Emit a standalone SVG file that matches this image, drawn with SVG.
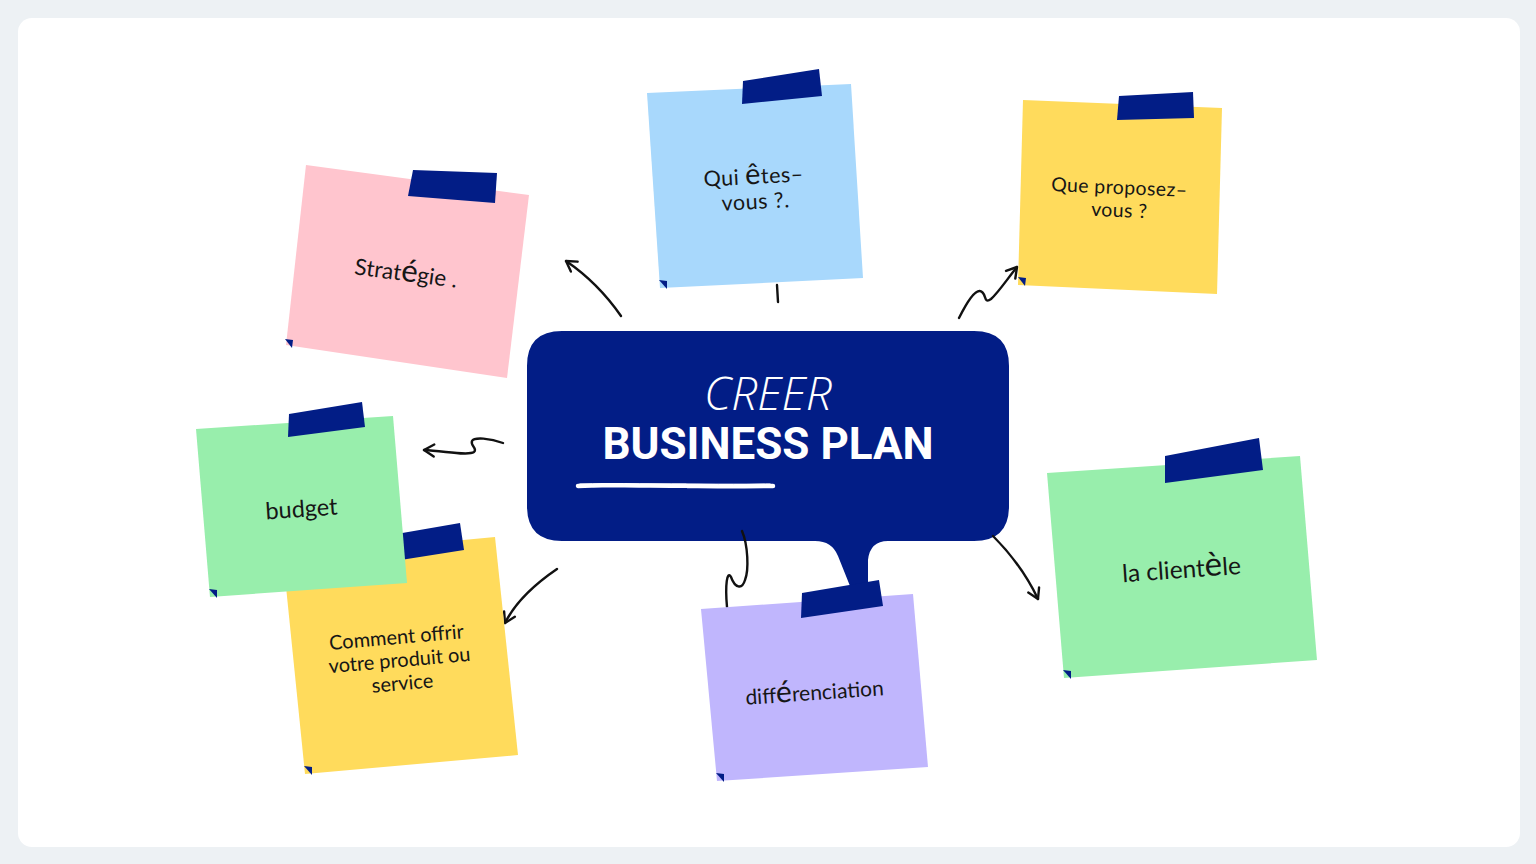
<svg xmlns="http://www.w3.org/2000/svg" width="1536" height="864" viewBox="0 0 1536 864">
<defs>
<style>
.note-text{font-family:Lato,"Noto Sans","DejaVu Sans",sans-serif;fill:#161616;text-anchor:middle}
.tape{fill:#021d86}
.corner{fill:#021d86}
.conn{fill:none;stroke:#111;stroke-width:2.4;stroke-linecap:round;stroke-linejoin:round}
</style>
<marker id="arr" markerUnits="userSpaceOnUse" markerWidth="16" markerHeight="16" refX="12" refY="8" orient="auto" viewBox="0 0 16 16">
<path d="M2,2 L12,8 L2,14" fill="none" stroke="#111" stroke-width="2.4" stroke-linecap="round" stroke-linejoin="round"/>
</marker>
</defs>
<rect x="0" y="0" width="1536" height="864" fill="#edf1f4"/>
<rect x="18" y="18" width="1502" height="829" rx="14" fill="#ffffff"/>

<g id="node-center">
<path d="M562,331 L974,331 Q1009,331 1009,366 L1009,506 Q1009,541 974,541 L888,541 Q870,541 868,560 L868,586 L850,586 L838,556 Q832,541 815,541 L562,541 Q527,541 527,506 L527,366 Q527,331 562,331 Z" fill="#021d86"/>
<text x="768" y="410" font-family="'Open Sans','DejaVu Sans',sans-serif" font-weight="300" font-style="italic" font-size="46" fill="#ffffff" text-anchor="middle">CREER</text>
<text x="768" y="459" font-family="Roboto,'Liberation Sans',sans-serif" font-weight="700" font-size="44" fill="#ffffff" text-anchor="middle">BUSINESS PLAN</text>
<path d="M578,486 C620,484 700,487 773,486" fill="none" stroke="#ffffff" stroke-width="4.5" stroke-linecap="round" stroke-dasharray="14 1.5 9 1 20 1.5"/>
<path d="M580,484 C640,483 710,485 770,484" fill="none" stroke="#ffffff" stroke-width="1.5" stroke-linecap="round" opacity="0.7"/>
</g>

<g id="connectors">
<path class="conn" d="M621,316 C605,293 588,276 566,261" marker-end="url(#arr)"/>
<path class="conn" d="M777,285 L778,302"/>
<path class="conn" d="M959,318 C966,304 974,290 980,291 C987,292 983,305 991,299 C998,293 1008,278 1017,267" marker-end="url(#arr)"/>
<path class="conn" d="M503,443 C490,438 474,437 472,441 C470,446 478,448 474,452 C468,456 445,451 424,450" marker-end="url(#arr)"/>
<path class="conn" d="M557,569 C535,584 515,603 505,623" marker-end="url(#arr)"/>
<path class="conn" d="M742,531 C748,545 749,570 745,580 C742,590 735,588 731,577 C727,570 725,585 727,607"/>
<path class="conn" d="M993,536 C1010,553 1026,574 1038,599" marker-end="url(#arr)"/>
</g>

<g id="node-strategie">
<polygon points="306,165 529,195 507,378 286,345" fill="#ffc5ce"/>
<polygon points="413,170 497,173 495,203 408,196" class="tape"/>
<polygon class="corner" points="285,339 293,340 292,348"/>
<text class="note-text" transform="translate(405,281) rotate(7.5)" font-size="22.5">Strat<tspan font-size="31">é</tspan>gie .</text>
</g>

<g id="node-qui">
<polygon points="647,93 851,84 863,278 660,288" fill="#a8d8fc"/>
<polygon points="743,81 819,69 822,96 742,104" class="tape"/>
<polygon class="corner" points="659,280 667,281 667,289"/>
<text class="note-text" transform="translate(754,184) rotate(-3)" font-size="21.5" letter-spacing="0.5">Qui <tspan font-size="29">ê</tspan>tes–</text>
<text class="note-text" transform="translate(756,209) rotate(-3)" font-size="21.5" letter-spacing="0.5">vous ?.</text>
</g>

<g id="node-que">
<polygon points="1023,100 1222,108 1217,294 1018,285" fill="#ffdb5c"/>
<polygon points="1119,96 1193,92 1194,118 1117,120" class="tape"/>
<polygon class="corner" points="1018,277 1026,278 1025,286"/>
<text class="note-text" transform="translate(1119,194) rotate(2.5)" font-size="19.5" letter-spacing="0.4">Que proposez–</text>
<text class="note-text" transform="translate(1119,217) rotate(2.5)" font-size="19.5" letter-spacing="0.4">vous ?</text>
</g>

<g id="node-comment">
<polygon points="283,557 495,537 518,755 305,774" fill="#ffdb5c"/>
<polygon points="385,536 460,523 464,550 388,562" class="tape"/>
<polygon class="corner" points="304,766 312,767 312,775"/>
<text class="note-text" transform="translate(397,644) rotate(-5)" font-size="20">Comment offrir</text>
<text class="note-text" transform="translate(400,667) rotate(-5)" font-size="20">votre produit ou</text>
<text class="note-text" transform="translate(403,690) rotate(-5)" font-size="20">service</text>
</g>

<g id="node-budget">
<polygon points="196,429 393,416 407,583 210,597" fill="#98eeac"/>
<polygon points="289,414 362,402 365,427 288,437" class="tape"/>
<polygon class="corner" points="209,589 217,590 217,598"/>
<text class="note-text" transform="translate(302,517) rotate(-4)" font-size="23.5">budget</text>
</g>

<g id="node-differenciation">
<polygon points="701,609 913,594 928,767 717,781" fill="#c0b6fd"/>
<polygon points="802,593 879,580 883,606 801,618" class="tape"/>
<polygon class="corner" points="716,773 724,774 724,782"/>
<text class="note-text" transform="translate(815,700) rotate(-4)" font-size="21">diff<tspan font-size="30">é</tspan>renciation</text>
</g>

<g id="node-clientele">
<polygon points="1047,473 1300,456 1317,660 1064,678" fill="#98eeac"/>
<polygon points="1165,456 1259,438 1263,470 1165,483" class="tape"/>
<polygon class="corner" points="1063,670 1071,671 1071,679"/>
<text class="note-text" transform="translate(1182,578) rotate(-4)" font-size="24.5">la client<tspan font-size="33">è</tspan>le</text>
</g>
</svg>
